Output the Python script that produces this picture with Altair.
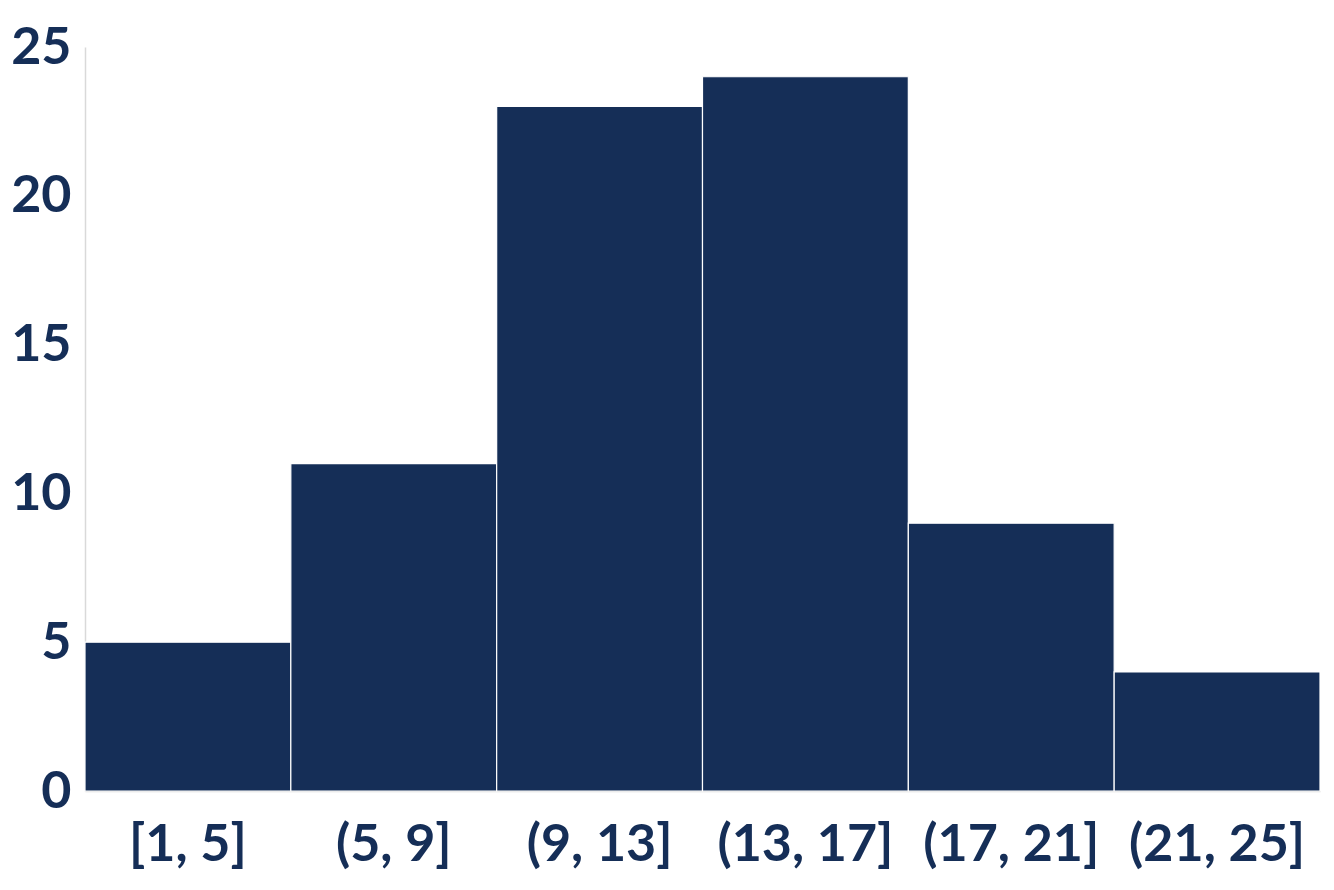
import altair as alt
import pandas as pd

bins = ["[1, 5]", "(5, 9]", "(9, 13]", "(13, 17]", "(17, 21]", "(21, 25]"]
counts = [5, 11, 23, 24, 9, 4]

df = pd.DataFrame({"bin": bins, "count": counts})

navy = "#152e57"

chart = alt.Chart(df).mark_bar(color=navy, stroke="white", strokeWidth=1.2).encode(
    x=alt.X("bin:N", sort=bins, title=None,
            scale=alt.Scale(paddingInner=0, paddingOuter=0),
            axis=alt.Axis(labelAngle=0, ticks=False, domainColor="#d9d9d9", domainWidth=1.5,
                          labelFont="Lato", labelFontWeight="bold", labelFontSize=52,
                          labelColor=navy, labelPadding=28, labelBaseline="top")),
    y=alt.Y("count:Q", title=None, scale=alt.Scale(domain=[0, 25], nice=False),
            axis=alt.Axis(values=[0, 5, 10, 15, 20, 25], grid=False, ticks=False,
                          domainColor="#d9d9d9", domainWidth=1.5,
                          labelFont="Lato", labelFontWeight="bold", labelFontSize=52,
                          labelColor=navy, labelPadding=14)),
).properties(
    width=1235, height=744,
    autosize=alt.AutoSizeParams(type="none"),
    padding={"left": 77, "top": 39, "right": 6, "bottom": 90},
).configure_view(stroke=None)

chart.save("out.html", embed_options={"renderer": "svg", "actions": False})
